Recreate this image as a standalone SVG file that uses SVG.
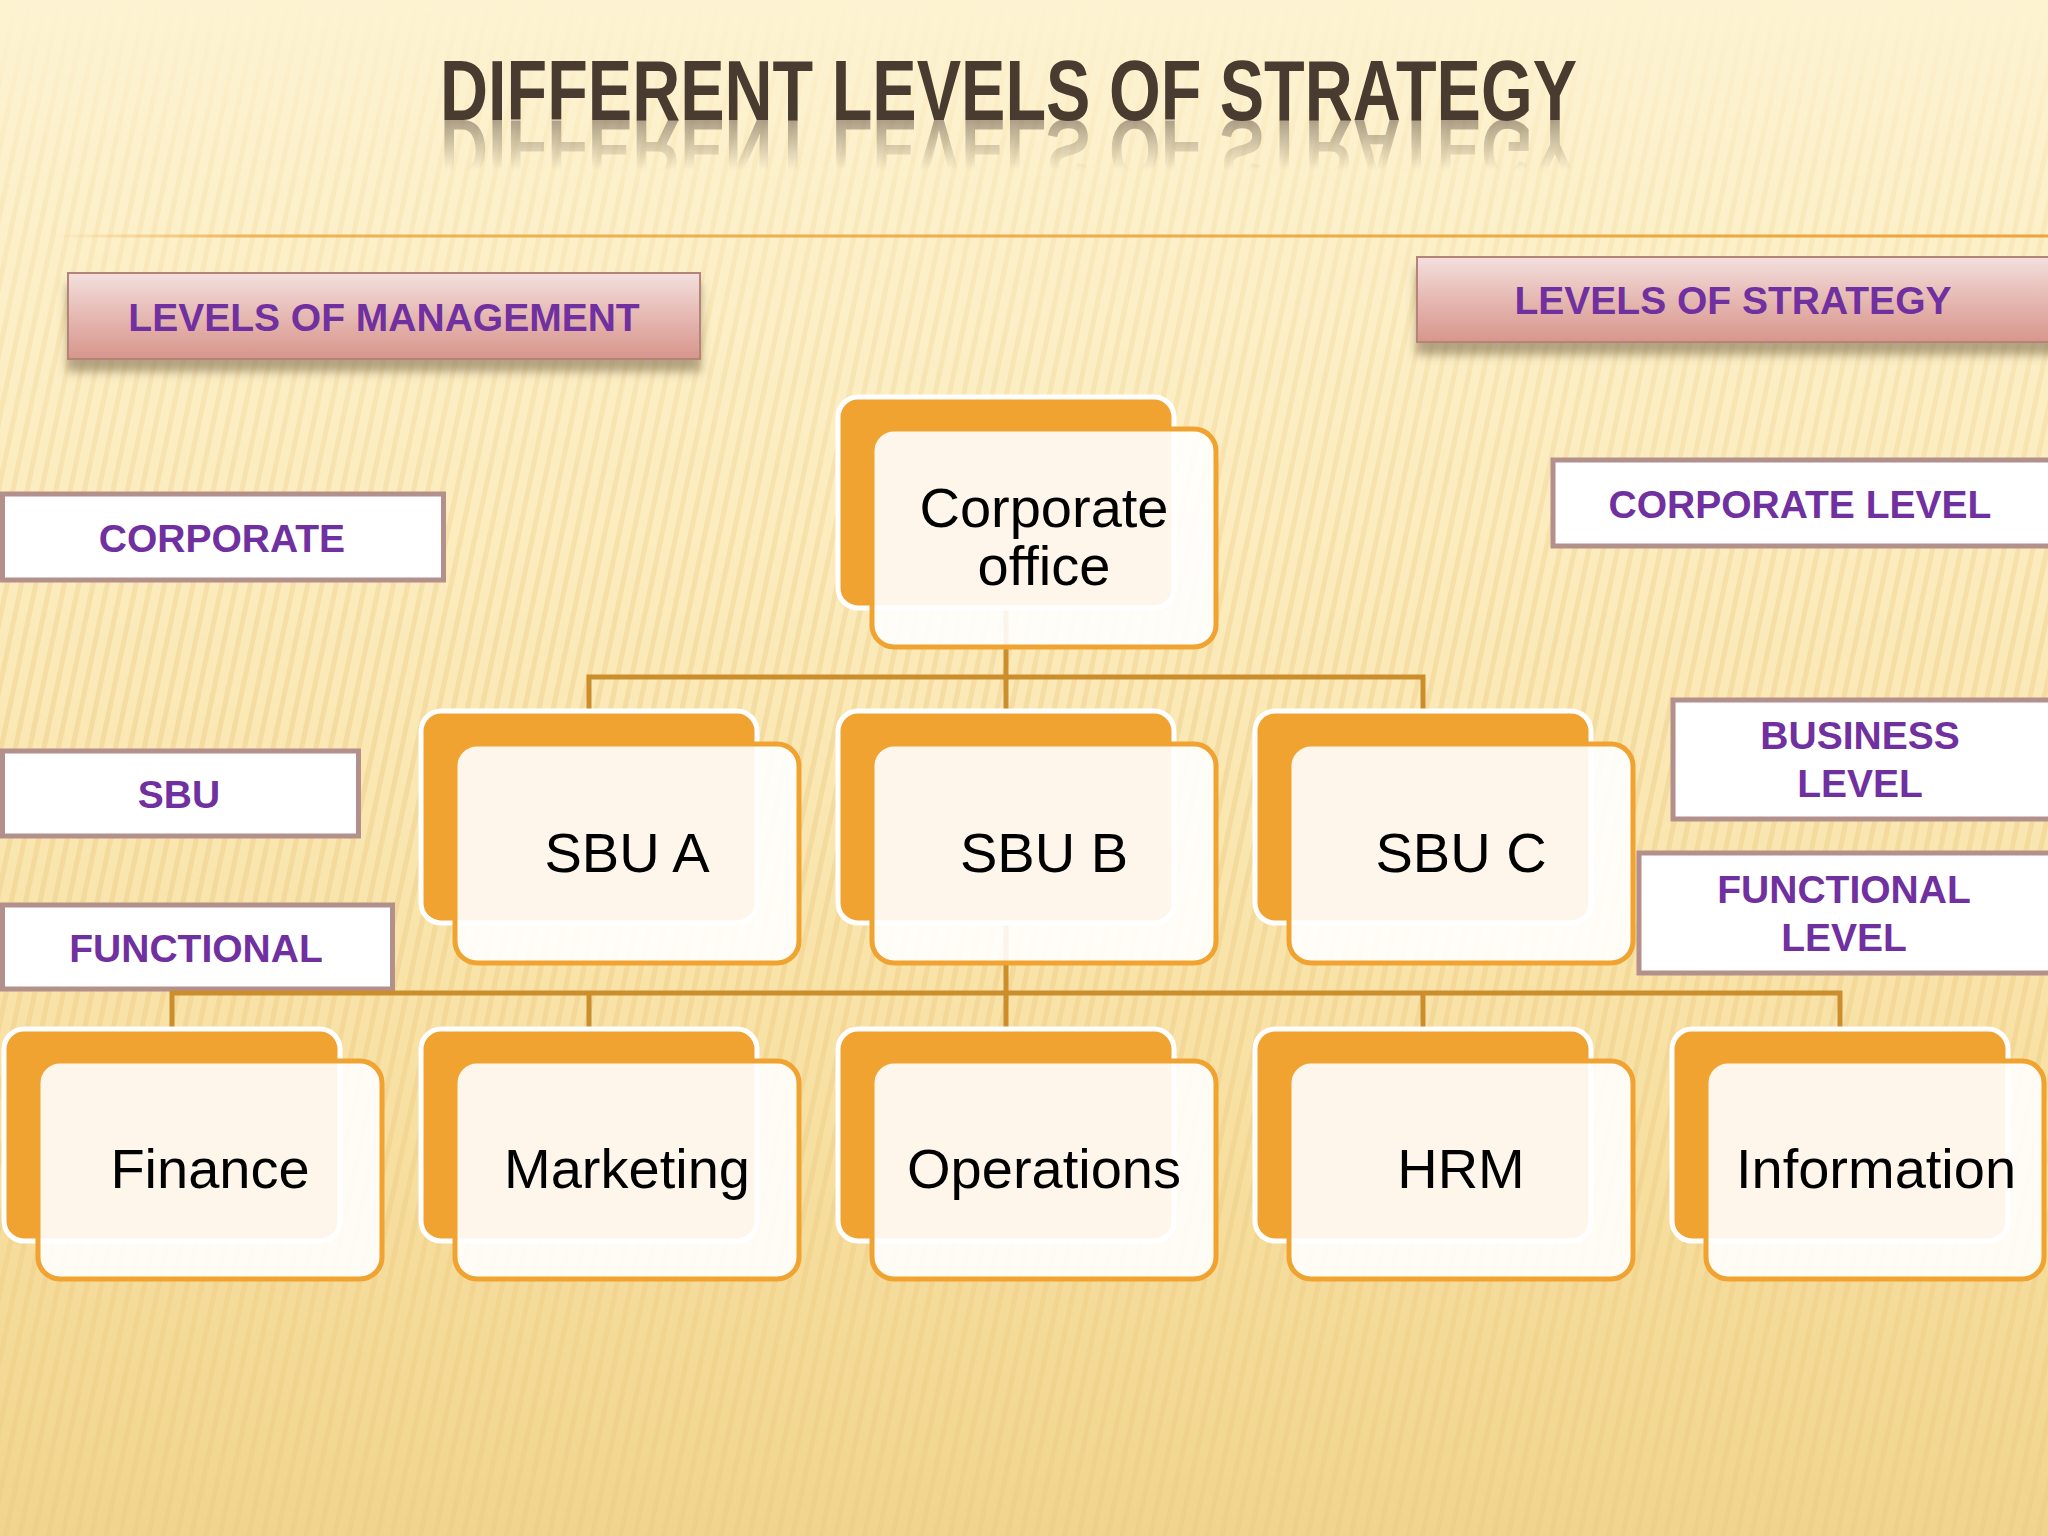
<svg xmlns="http://www.w3.org/2000/svg" width="2048" height="1536" viewBox="0 0 2048 1536">
<defs>
  <linearGradient id="bg" x1="0" y1="0" x2="0" y2="1">
    <stop offset="0" stop-color="#fdf3d2"/>
    <stop offset="0.35" stop-color="#fcecbe"/>
    <stop offset="0.75" stop-color="#f7dfa0"/>
    <stop offset="1" stop-color="#f1d58e"/>
  </linearGradient>
  <pattern id="stripes" width="14" height="40" patternUnits="userSpaceOnUse" patternTransform="rotate(12)">
    <rect x="0" y="0" width="5" height="40" fill="#e8c47a"/>
  </pattern>
  <linearGradient id="stripeFade" x1="0" y1="0" x2="0" y2="1">
    <stop offset="0" stop-color="#fff" stop-opacity="0"/>
    <stop offset="0.12" stop-color="#fff" stop-opacity="0.15"/>
    <stop offset="0.5" stop-color="#fff" stop-opacity="0.35"/>
    <stop offset="1" stop-color="#fff" stop-opacity="0.25"/>
  </linearGradient>
  <mask id="stripeMask">
    <rect x="0" y="0" width="2048" height="1536" fill="url(#stripeFade)"/>
  </mask>
  <linearGradient id="rule" gradientUnits="userSpaceOnUse" x1="52" y1="0" x2="2048" y2="0">
    <stop offset="0" stop-color="#eea43a" stop-opacity="0"/>
    <stop offset="0.1" stop-color="#eea43a" stop-opacity="0.8"/>
    <stop offset="1" stop-color="#eea43a"/>
  </linearGradient>
  <linearGradient id="pink" x1="0" y1="0" x2="0" y2="1">
    <stop offset="0" stop-color="#f3e0de"/>
    <stop offset="0.5" stop-color="#e6b8b2"/>
    <stop offset="1" stop-color="#d7968c"/>
  </linearGradient>
  <linearGradient id="reflFade" x1="0" y1="0" x2="0" y2="1">
    <stop offset="0" stop-color="#fff" stop-opacity="0.45"/>
    <stop offset="1" stop-color="#fff" stop-opacity="0"/>
  </linearGradient>
  <mask id="reflMask" maskUnits="userSpaceOnUse" x="0" y="120" width="2048" height="70">
    <rect x="0" y="120" width="2048" height="50" fill="url(#reflFade)"/>
  </mask>
  <filter id="shadow" x="-5%" y="-20%" width="110%" height="160%">
    <feDropShadow dx="0" dy="12" stdDeviation="5" flood-color="#6b5a3a" flood-opacity="0.5"/>
  </filter>
  <style>
    .title { font-family: "Liberation Sans", Arial, sans-serif; font-weight: bold; font-size: 85px; fill: #4a3b30; }
    .lbl { font-family: "Liberation Sans", Arial, sans-serif; font-weight: bold; font-size: 39px; fill: #7030a0; text-anchor: middle; }
    .pinkbox { fill: url(#pink); stroke: #b58478; stroke-width: 2; filter: url(#shadow); }
    .whitebox { fill: #ffffff; stroke: #b4908c; stroke-width: 5; }
    .back { fill: #f0a330; stroke: #ffffff; stroke-width: 5; }
    .front { fill: #ffffff; fill-opacity: 0.9; stroke: #f0a330; stroke-width: 5; }
    .ntext { font-family: "Liberation Sans", Arial, sans-serif; font-size: 56px; fill: #000000; text-anchor: middle; }
    .conn { fill: none; stroke: #cc8d2c; stroke-width: 5; stroke-linecap: square; }
  </style>
</defs>

<!-- background -->
<rect x="0" y="0" width="2048" height="1536" fill="url(#bg)"/>
<rect x="0" y="0" width="2048" height="1536" fill="url(#stripes)" mask="url(#stripeMask)"/>

<!-- title -->
<g id="title">
  <text class="title" x="440" y="120" textLength="1137" lengthAdjust="spacingAndGlyphs">DIFFERENT LEVELS OF STRATEGY</text>
  <g mask="url(#reflMask)">
    <text class="title" x="440" y="120" textLength="1137" lengthAdjust="spacingAndGlyphs" transform="translate(0,240) scale(1,-1)">DIFFERENT LEVELS OF STRATEGY</text>
  </g>
</g>
<rect x="52" y="234.5" width="1996" height="3" fill="url(#rule)"/>

<!-- header boxes -->
<g id="levels-of-management">
  <rect class="pinkbox" x="68" y="273" width="632" height="86"/>
  <text class="lbl" x="384" y="331">LEVELS OF MANAGEMENT</text>
</g>
<g id="levels-of-strategy">
  <rect class="pinkbox" x="1417" y="257" width="640" height="85"/>
  <text class="lbl" x="1733" y="314">LEVELS OF STRATEGY</text>
</g>

<!-- left labels -->
<g id="corporate">
  <rect class="whitebox" x="2.5" y="494" width="441" height="86"/>
  <text class="lbl" x="222" y="552">CORPORATE</text>
</g>
<g id="sbu">
  <rect class="whitebox" x="2.5" y="751" width="356" height="85"/>
  <text class="lbl" x="179" y="808">SBU</text>
</g>
<g id="functional">
  <rect class="whitebox" x="2.5" y="905" width="390" height="84"/>
  <text class="lbl" x="196" y="962">FUNCTIONAL</text>
</g>

<!-- right labels -->
<g id="corporate-level">
  <rect class="whitebox" x="1553" y="460" width="500" height="86"/>
  <text class="lbl" x="1800" y="518">CORPORATE LEVEL</text>
</g>
<g id="business-level">
  <rect class="whitebox" x="1673" y="700" width="380" height="119"/>
  <text class="lbl" x="1860" y="749">BUSINESS</text>
  <text class="lbl" x="1860" y="797">LEVEL</text>
</g>
<g id="functional-level">
  <rect class="whitebox" x="1639" y="853" width="414" height="120"/>
  <text class="lbl" x="1844" y="903">FUNCTIONAL</text>
  <text class="lbl" x="1844" y="951">LEVEL</text>
</g>

<!-- connectors -->
<g id="connectors">
  <path class="conn" d="M1006,607 V677 M589,677 H1423 M589,677 V711 M1006,677 V711 M1423,677 V711"/>
  <path class="conn" d="M1006,925 V993 M172,993 H1840 M172,993 V1029 M589,993 V1029 M1006,993 V1029 M1423,993 V1029 M1840,993 V1029"/>
</g>

<!-- org chart nodes -->
<g id="node-corporate-office">
  <rect class="back" x="838" y="397" width="336" height="211" rx="20"/>
  <rect class="front" x="872" y="429" width="344" height="218" rx="22"/>
  <text class="ntext" x="1044" y="527">Corporate</text>
  <text class="ntext" x="1044" y="585">office</text>
</g>
<g id="node-sbu-a">
  <rect class="back" x="421" y="711" width="336" height="212" rx="20"/>
  <rect class="front" x="455" y="744" width="344" height="219" rx="22"/>
  <text class="ntext" x="627" y="872">SBU A</text>
</g>
<g id="node-sbu-b">
  <rect class="back" x="838" y="711" width="336" height="212" rx="20"/>
  <rect class="front" x="872" y="744" width="344" height="219" rx="22"/>
  <text class="ntext" x="1044" y="872">SBU B</text>
</g>
<g id="node-sbu-c">
  <rect class="back" x="1255" y="711" width="336" height="212" rx="20"/>
  <rect class="front" x="1289" y="744" width="344" height="219" rx="22"/>
  <text class="ntext" x="1461" y="872">SBU C</text>
</g>
<g id="node-finance">
  <rect class="back" x="4" y="1029" width="336" height="212" rx="20"/>
  <rect class="front" x="38" y="1061" width="344" height="218" rx="22"/>
  <text class="ntext" x="210" y="1188">Finance</text>
</g>
<g id="node-marketing">
  <rect class="back" x="421" y="1029" width="336" height="212" rx="20"/>
  <rect class="front" x="455" y="1061" width="344" height="218" rx="22"/>
  <text class="ntext" x="627" y="1188">Marketing</text>
</g>
<g id="node-operations">
  <rect class="back" x="838" y="1029" width="336" height="212" rx="20"/>
  <rect class="front" x="872" y="1061" width="344" height="218" rx="22"/>
  <text class="ntext" x="1044" y="1188">Operations</text>
</g>
<g id="node-hrm">
  <rect class="back" x="1255" y="1029" width="336" height="212" rx="20"/>
  <rect class="front" x="1289" y="1061" width="344" height="218" rx="22"/>
  <text class="ntext" x="1461" y="1188">HRM</text>
</g>
<g id="node-information">
  <rect class="back" x="1672" y="1029" width="336" height="212" rx="20"/>
  <rect class="front" x="1706" y="1061" width="338" height="218" rx="22"/>
  <text class="ntext" x="1876" y="1188">Information</text>
</g>
</svg>
